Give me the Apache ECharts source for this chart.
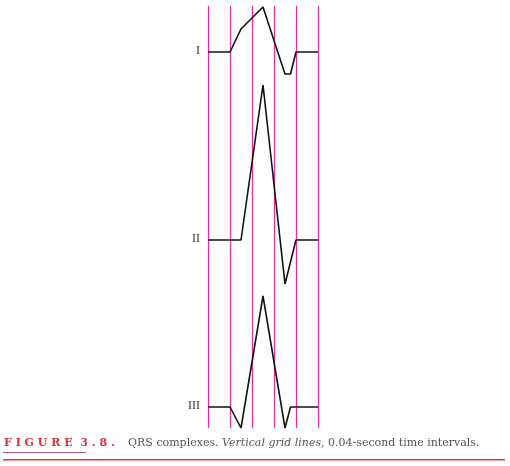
<!DOCTYPE html>
<html><head><meta charset="utf-8">
<script src="https://cdn.jsdelivr.net/npm/echarts@6/dist/echarts.min.js"></script>
<style>html,body{margin:0;padding:0;background:#fff}#c{width:510px;height:466px}</style>
</head><body><div id="c"></div>
<script>
// time in grid units (each 0.04 s), vertical position (down = larger)
var leadNames = ['I', 'II', 'III'];
var leadBase = [52, 240, 407];
var leadI = [[0, 52], [1, 52], [1.5, 29], [2.5, 7], [3.5, 74], [3.75, 74], [4, 52], [5, 52]];
var leadII = [[0, 240], [1.5, 240], [2.5, 85], [3.5, 284], [4, 240], [5, 240]];
var leadIII = [[0, 407], [1, 407], [1.5, 428], [2.5, 296], [3.5, 428], [3.75, 407], [5, 407]];

var chart = echarts.init(document.getElementById('c'));
function trace(d) {
	return { type: 'line', data: d, symbol: 'none', lineStyle: { color: '#111', width: 1.6 }, z: 3 };
}
chart.setOption({
	animation: false,
	grid: { left: 208, width: 110, top: 6, height: 422 },
	xAxis: {
		type: 'value', min: 0, max: 5, interval: 1,
		axisLine: { show: false }, axisTick: { show: false }, axisLabel: { show: false },
		splitLine: { show: true, lineStyle: { color: '#ec2aa0', width: 1.2 } }
	},
	yAxis: {
		type: 'value', min: 6, max: 428, inverse: true,
		axisLine: { show: false }, axisTick: { show: false }, axisLabel: { show: false },
		splitLine: { show: false }
	},
	series: [trace(leadI), trace(leadII), trace(leadIII)],
	graphic: leadNames.map(function (n, i) {
		return { type: 'text', right: 310, top: leadBase[i] - 7,
			style: { text: n, font: '12px "Liberation Serif", serif', fill: '#333' } };
	}).concat([
		{ type: 'text', left: 4, top: 437, style: {
			rich: {
				f: { font: 'bold 11px "DejaVu Serif", serif', fill: '#d6313c', textBorderWidth: 0 },
				t: { font: '11px "DejaVu Serif", serif', fill: '#555' },
				i: { font: 'italic 11px "DejaVu Serif", serif', fill: '#555' }
			},
			text: '{f|F I G U R E  3 . 8 .}    {t|QRS complexes. }{i|Vertical grid lines}{t|, 0.04-second time intervals.}'
		} },
		{ type: 'rect', shape: { x: 3, y: 452, width: 83, height: 1 }, style: { fill: '#b05a9a' } },
		{ type: 'rect', shape: { x: 3, y: 459, width: 502, height: 1.5 }, style: { fill: '#e0393f' } }
	])
});
</script></body></html>
